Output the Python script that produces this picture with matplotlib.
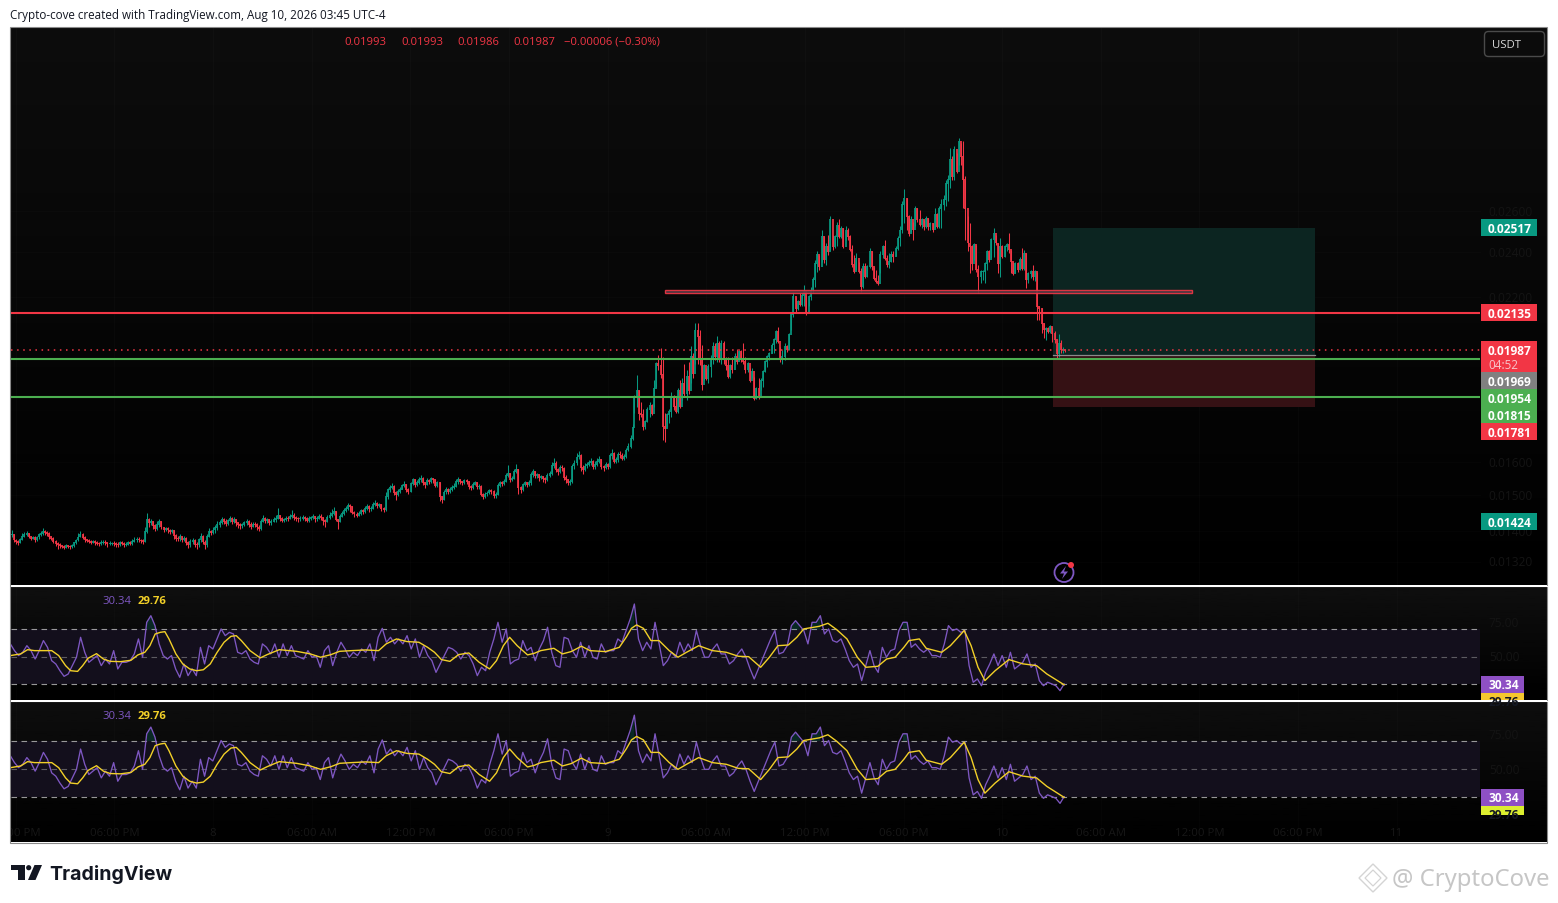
import numpy as np
import matplotlib
matplotlib.use("Agg")
import matplotlib.pyplot as plt
from matplotlib.patches import Rectangle, Polygon, Circle, FancyBboxPatch

W, H = 1558, 904
GREEN = "#089981"
RED = "#f23645"
LINE_GREEN = "#4caf50"
PURPLE = "#7e57c2"
YELLOW = "#f2d028"
FONT = "Open Sans"
FAINT = "#141414"

# --- prices, in 1e-5 USDT ---
left_close = [
    1390,1376,1372,1369,1378,1385,1391,1394,1386,1381,
    1383,1376,1384,1390,1393,1399,1396,1394,1385,1381,
    1373,1367,1365,1361,1360,1357,1361,1359,1358,1361,
    1369,1376,1384,1390,1383,1378,1375,1372,1370,1372,
    1369,1367,1366,1369,1371,1369,1366,1367,1368,1367,
    1364,1363,1369,1367,1363,1365,1369,1367,1373,1376,
    1379,1376,1375,1372,1398,1431,1422,1426,1416,1408,
    1419,1426,1411,1403,1407,1403,1398,1401,1388,1381,
    1379,1385,1378,1381,1370,1363,1372,1376,1365,1363,
    1377,1385,1371,1363,1386,1399,1397,1403,1410,1417,
    1424,1431,1426,1421,1428,1435,1427,1431,1423,1417,
    1414,1417,1423,1426,1419,1412,1419,1417,1411,1408,
    1426,1435,1428,1431,1424,1426,1431,1435,1442,1435,
    1429,1431,1436,1435,1440,1444,1438,1435,1433,1435,
    1438,1435,1430,1435,1437,1440,1433,1435,1441,1438,
    1429,1426,1438,1444,1448,1454,1432,1426,1440,1449,
    1458,1463,1471,1468,1452,1447,1444,1449,1456,1454,
    1463,1468,1461,1463,1475,1478,1470,1473,1463,1459,
    1498,1517,1524,1527,1508,1502,1511,1517,1528,1532,
    1518,1512,1534,1546,1533,1537,1548,1551,1539,1532,
    1544,1541,1549,1546,1530,1537,1496,1488,1510,1517,
    1512,1517,1524,1527,1540,1546,1541,1537,1544,1541,
    1526,1522,1533,1537,1525,1527,1503,1497,1504,1507,
    1515,1512,1499,1502,1530,1537,1535,1541,1559,1566,
    1547,1551,1571,1577,1524,1517,1531,1537,1532,1537,
    1562,1571,1558,1561,1552,1556,1550,1546,1560,1566,
    1590,1597,1577,1571,1585,1582,1553,1546,1537,1541,
    1588,1597,1616,1622,1584,1577,1588,1592,1599,1602,
    1587,1592,1603,1607,1586,1582,1592,1587,1620,1628,
    1603,1607,1625,1622,1612,1617,1638,1650,1675,1710,
]
left_high = [
    1402,1392,1380,1376,1382,1395,1398,1399,1396,1388,
    1388,1386,1388,1396,1399,1408,1404,1400,1397,1388,
    1384,1376,1370,1368,1364,1363,1365,1364,1362,1365,
    1372,1380,1394,1400,1394,1386,1380,1378,1376,1377,
    1376,1373,1370,1375,1376,1375,1372,1373,1372,1373,
    1372,1370,1374,1373,1370,1372,1373,1374,1380,1384,
    1385,1383,1379,1378,1410,1449,1436,1432,1428,1419,
    1428,1432,1428,1412,1412,1410,1407,1406,1404,1392,
    1386,1392,1388,1386,1384,1374,1378,1382,1380,1370,
    1382,1394,1390,1376,1392,1408,1404,1410,1418,1428,
    1430,1440,1436,1432,1434,1442,1438,1438,1434,1426,
    1422,1423,1428,1434,1430,1424,1424,1426,1422,1416,
    1432,1445,1440,1436,1434,1434,1438,1444,1463,1445,
    1438,1437,1442,1442,1448,1458,1449,1442,1440,1442,
    1444,1442,1438,1441,1442,1448,1442,1442,1448,1446,
    1438,1432,1444,1452,1462,1466,1456,1434,1446,1456,
    1464,1470,1478,1476,1470,1456,1452,1456,1462,1462,
    1470,1476,1472,1470,1482,1486,1480,1478,1476,1468,
    1510,1522,1532,1536,1530,1514,1518,1524,1534,1542,
    1534,1522,1540,1552,1550,1545,1556,1562,1555,1540,
    1552,1550,1556,1552,1548,1543,1540,1498,1516,1524,
    1522,1524,1532,1536,1548,1556,1550,1544,1550,1548,
    1544,1530,1540,1544,1540,1534,1530,1506,1510,1514,
    1520,1520,1515,1510,1536,1544,1544,1548,1568,1590,
    1568,1558,1578,1595,1580,1528,1538,1544,1540,1545,
    1570,1580,1574,1568,1564,1562,1558,1554,1566,1574,
    1600,1612,1602,1582,1592,1590,1585,1560,1549,1548,
    1595,1606,1628,1636,1626,1590,1596,1600,1606,1612,
    1606,1602,1612,1618,1610,1590,1600,1596,1628,1640,
    1630,1616,1632,1634,1628,1626,1645,1660,1685,1722,
]
left_low = [
    1384,1372,1366,1364,1367,1376,1383,1388,1382,1376,
    1378,1372,1374,1380,1387,1390,1390,1388,1380,1376,
    1368,1360,1352,1354,1354,1352,1354,1354,1352,1356,
    1358,1366,1374,1384,1378,1372,1370,1368,1366,1367,
    1364,1362,1361,1364,1366,1362,1358,1362,1362,1361,
    1358,1358,1360,1362,1358,1360,1362,1362,1364,1370,
    1372,1370,1369,1366,1370,1395,1412,1416,1405,1400,
    1404,1410,1405,1397,1399,1396,1392,1394,1380,1374,
    1374,1374,1372,1373,1362,1355,1358,1366,1358,1352,
    1358,1372,1366,1352,1358,1384,1390,1391,1396,1404,
    1412,1419,1420,1414,1418,1424,1420,1421,1414,1408,
    1406,1408,1414,1416,1412,1406,1410,1410,1402,1400,
    1404,1425,1422,1422,1418,1418,1424,1426,1432,1428,
    1424,1424,1428,1428,1432,1436,1430,1428,1426,1428,
    1430,1428,1424,1425,1430,1432,1426,1428,1432,1430,
    1418,1410,1424,1434,1440,1444,1428,1405,1424,1440,
    1444,1452,1458,1452,1446,1440,1438,1442,1444,1446,
    1450,1458,1454,1455,1460,1470,1464,1466,1455,1452,
    1456,1490,1510,1518,1500,1486,1498,1506,1518,1524,
    1510,1505,1510,1530,1526,1528,1535,1540,1530,1522,
    1530,1534,1538,1538,1524,1526,1485,1478,1486,1505,
    1505,1506,1514,1520,1526,1535,1534,1530,1534,1534,
    1520,1515,1520,1530,1520,1520,1497,1490,1494,1498,
    1504,1505,1492,1492,1500,1526,1528,1532,1540,1555,
    1540,1544,1548,1568,1505,1508,1512,1528,1524,1528,
    1532,1556,1552,1552,1544,1548,1540,1538,1542,1556,
    1560,1582,1570,1562,1568,1574,1545,1538,1530,1530,
    1538,1580,1590,1610,1572,1565,1572,1582,1588,1590,
    1580,1580,1588,1598,1578,1572,1578,1580,1582,1610,
    1596,1598,1600,1612,1605,1608,1612,1635,1645,1670,
]

right_close = [
    1815,1839,1758,1753,1713,1730,1770,1787,1758,1845,
    1936,1930,1894,1713,1707,1753,1764,1815,1781,1764,
    1839,1781,1863,1827,1887,1839,1962,1900,2066,2040,
    1949,1857,1930,1881,1924,1949,2000,1962,2014,1956,
    2014,1949,1930,1887,1930,1912,1962,1943,1981,1949,
    1943,1912,1936,1875,1906,1809,1845,1815,1875,1906,
    1943,1962,1975,2007,2027,2060,2020,1949,1962,2000,
    1988,2047,2127,2203,2155,2182,2169,2210,2224,2134,
    2203,2232,2276,2350,2389,2335,2476,2366,2428,2405,
    2557,2428,2476,2531,2476,2515,2428,2507,2476,2413,
    2343,2313,2374,2313,2247,2335,2291,2335,2405,2335,
    2284,2269,2262,2389,2428,2374,2343,2358,2389,2381,
    2420,2468,2507,2632,2666,2573,2491,2557,2507,2615,
    2557,2532,2557,2524,2565,2524,2540,2507,2582,2524,
    2615,2632,2657,2744,2762,2871,2781,2928,2807,2975,
    2890,2762,2615,2444,2428,2350,2436,2321,2291,2313,
    2313,2350,2405,2366,2460,2491,2444,2350,2428,2381,
    2428,2436,2413,2358,2306,2350,2321,2366,2328,2397,
    2276,2306,2313,2291,2313,2162,2155,2093,2066,2073,
    2060,2079,2053,2027,1975,2014,1988,1988,1985,
]
right_high = [
    1821,1894,1839,1798,1772,1735,1781,1798,1790,1875,
    1943,1970,1996,1962,1758,1758,1772,1833,1821,1815,
    1845,1875,1881,1936,1912,1943,2003,1975,2093,2093,
    2066,2007,1936,1918,1936,1969,2020,2014,2043,2024,
    2027,2024,1962,1962,1936,1962,1975,1990,1988,1988,
    2014,1962,1943,1918,1918,1887,1851,1881,1881,1912,
    1949,1969,1981,2014,2033,2066,2079,2000,1988,2014,
    2007,2053,2134,2225,2203,2189,2217,2217,2254,2210,
    2210,2247,2291,2366,2405,2389,2507,2476,2444,2483,
    2577,2483,2483,2548,2562,2524,2515,2524,2515,2483,
    2436,2389,2397,2358,2328,2350,2350,2343,2420,2405,
    2335,2321,2298,2405,2436,2460,2389,2397,2405,2405,
    2428,2476,2524,2649,2711,2666,2582,2573,2548,2627,
    2615,2607,2565,2557,2573,2565,2548,2540,2615,2590,
    2624,2660,2683,2762,2789,2937,2890,2947,2909,2994,
    2966,2975,2781,2573,2541,2436,2444,2436,2343,2321,
    2321,2358,2413,2413,2468,2518,2483,2444,2468,2436,
    2436,2444,2491,2413,2358,2358,2358,2381,2420,2413,
    2397,2313,2321,2343,2321,2313,2164,2155,2093,2079,
    2079,2086,2079,2060,2027,2050,2027,2000,1988,
]
right_low = [
    1758,1781,1735,1747,1702,1707,1730,1747,1753,1781,
    1851,1912,1881,1670,1665,1713,1725,1747,1770,1758,
    1758,1775,1804,1815,1804,1827,1863,1881,1936,1936,
    1930,1839,1875,1875,1863,1887,1936,1949,1943,1943,
    1936,1936,1912,1881,1881,1900,1936,1936,1949,1943,
    1936,1900,1906,1869,1881,1804,1806,1809,1839,1851,
    1906,1924,1949,1975,1975,2014,2014,1943,1936,1949,
    1981,1988,2066,2120,2141,2148,2162,2162,2162,2127,
    2162,2189,2217,2247,2313,2321,2358,2350,2343,2389,
    2413,2413,2420,2428,2468,2468,2420,2460,2460,2405,
    2335,2306,2321,2306,2225,2239,2284,2291,2328,2321,
    2276,2262,2254,2306,2374,2366,2335,2328,2358,2358,
    2385,2413,2428,2491,2541,2507,2476,2499,2460,2524,
    2548,2524,2515,2507,2515,2507,2507,2499,2515,2515,
    2515,2515,2607,2624,2649,2719,2762,2762,2798,2843,
    2843,2615,2460,2405,2306,2321,2366,2313,2217,2262,
    2276,2262,2321,2358,2374,2381,2436,2306,2291,2374,
    2381,2405,2397,2306,2299,2306,2313,2321,2321,2321,
    2239,2262,2284,2276,2269,2107,2107,2053,2033,2027,
    2053,2053,2020,2014,1956,1962,1975,1975,1981,
]

# --- RSI, sampled roughly every 15 min across the chart ---
rsi_values = [
    59.5,54.6,51,53.4,58.2,54.6,48.5,54.6,61.9,57,
    47.3,44.9,40,35.9,37.6,43.7,49.8,64.3,53.4,46.1,
    48.5,51,43.7,48.5,44.9,54.6,41.3,46.1,46.1,47.3,
    52.2,63.1,49.8,75.2,80,72.8,59.5,51,48.5,51,
    41.3,35.2,44.9,36.4,41.3,36.4,57,44.9,58.2,55.8,
    63.1,70.4,65.5,67.9,66.7,53.4,52.2,54.6,48.5,46.1,
    44.9,59.5,57,52.2,59.5,49.8,59.5,51,58.2,51,
    49.8,48.5,54.6,49.8,51,42.5,54.6,58.2,43.7,53.4,
    60.7,55.8,49.8,53.4,51,55.8,53.4,59.5,47.3,64.3,
    70.8,60.7,64.3,59.5,63.1,59.5,65.5,55.8,63.1,49.8,
    58.2,51,47.3,38.8,44.9,51,57,55.8,53.4,48.5,
    53.4,51,44.9,36.4,42.5,40,53.4,63.1,75.2,60.7,
    70.4,44.9,47.3,48.5,61.9,54.6,57,47.3,55.8,
    61.9,71.6,53.4,43.7,42.5,64.3,63.1,54.6,49.8,60.7,
    49.8,58.2,49.8,48.5,59.5,53.4,54.6,54.6,63.1,60.7,
    69.2,77.6,88.5,63.1,54.6,60.7,55.8,75.2,59.5,43.7,
    47.3,53.4,49.8,60.7,53.4,59.5,54.6,69.2,58.2,49.8,
    49.8,55.8,59.5,52.2,52.2,44.9,47.3,52.2,55.8,49.8,
    41.3,34,41.3,48.5,55.8,63.1,69.2,52.2,53.4,58.2,
    72.8,76.4,72.8,69.2,59.5,75.2,75.2,80,66.7,70.4,
    61.9,60.7,63.1,55.8,47.3,42.5,44.9,32.8,43.7,54.6,
    43.7,38.8,57,49.8,54.6,55.8,69.2,75.2,75.2,57,
    59.5,55.8,53.4,55.8,51,51,49.8,59.5,72.8,69.2,
    70.4,67.9,69.2,43.7,31.6,34,29.1,38.8,44.9,52.2,
    43.7,51,42.5,53.4,41.3,43.7,46.1,52.2,42.5,44.9,
    32.8,29.1,31.6,30.4,29.1,25.5,30.34,
]
ma_hours = [
    -12.33,-11.70,-11.28,-10.86,-10.23,-9.81,-9.39,-8.97,-8.66,-8.24,
    -7.93,-7.61,-7.09,-6.67,-6.25,-5.62,-4.99,-4.57,-4.15,-3.84,
    -3.52,-3.21,-2.93,-2.68,-2.26,-1.84,-1.42,-1.0,-0.59,-0.17,
    0.25,0.67,1.09,1.41,1.72,2.25,2.87,3.29,4.03,5.08,
    5.92,6.54,7.17,7.70,8.43,9.27,10.07,10.53,11.16,11.79,
    12.52,13.05,13.47,13.89,14.41,14.93,15.56,16.19,16.82,17.24,
    17.66,18.04,18.5,19.13,19.55,19.93,
    20.73,21.25,21.78,22.41,22.93,23.87,24.71,25.13,25.45,25.76,
    26.18,26.64,27.13,27.75,28.28,28.80,29.54,30.38,31.22,31.95,
    32.58,33.31,33.84,34.36,34.99,35.51,35.93,36.88,37.40,37.93,
    38.56,39.19,39.71,40.44,40.97,41.49,42.02,42.33,42.96,43.38,
    44.32,44.85,45.69,46.11,46.53,46.95,47.57,48.41,49.25,50.09,
    50.72,51.77,
]
ma_values = [
    51,52.2,55.3,54.6,54.6,54.6,51,43.7,40,39.5,
    43.7,49,52.4,48.5,46.8,46.6,47.6,51.5,53.4,58.2,
    66.7,67.9,68.4,63.1,52.2,44.9,41.3,40,40.7,44.9,
    53.4,60.7,65,65.5,61.9,54.6,49.3,51.7,55.3,54.1,
    52.2,49.8,51.7,54.1,54.6,55.1,54.6,59.5,63.1,61.2,
    60.7,57,53.4,48.1,46.8,51.7,52.9,46.1,41.3,47.3,
    58.2,64.3,58.2,51.5,52.7,54.6,
    56.3,52.2,53.9,57.8,54.6,53.9,57,64.3,70.8,73.3,
    70.8,61.9,61.9,54.6,49.8,53.4,58.2,54.6,53.4,50.5,
    50.2,42.5,49.8,58.2,58.7,64.3,70.4,72.3,74.5,69.9,
    63.1,49.8,42.5,43.2,48.5,49.8,57,61.9,63.1,56.3,
    53.4,58.2,69.2,58.2,42.5,32.8,40,48.1,45,43.7,
    37.6,29.76,
]

# --- tick labels and levels ---
time_hours = [-12, -6, 0, 6, 12, 18, 24, 30, 36, 42, 48, 54, 60, 66, 72]
time_labels = ["12:00 PM", "06:00 PM", "8", "06:00 AM", "12:00 PM", "06:00 PM", "9",
               "06:00 AM", "12:00 PM", "06:00 PM", "10", "06:00 AM", "12:00 PM",
               "06:00 PM", "11"]
price_ticks = [0.01320, 0.01400, 0.01500, 0.01600, 0.02200, 0.02400, 0.02600]
resistance = 0.02135
supports = [0.01954, 0.01815]
last_price = 0.01987
target, entry, stop = 0.02517, 0.01969, 0.01781
zone_top, zone_bottom = 0.02232, 0.02221

# x axis: hours from the start of Aug 8
hour_min, hour_max = -12.29, 81.14
scale_edge = 77.07
label_hour = 77.6

close = np.array(left_close + right_close) / 1e5
high = np.array(left_high + right_high) / 1e5
low = np.array(left_low + right_low) / 1e5
open_ = np.concatenate(([close[0]], close[:-1]))
bar_hours = np.concatenate((
    np.linspace(-12.23, 25.52, len(left_close)),
    np.linspace(25.63, 51.85, len(right_close)),
))
rsi_hours = np.linspace(-12.33, 51.77, len(rsi_values))
rsi_arr = np.array(rsi_values)


def panel(x0, y0, x1, y1):
    a = fig.add_axes([x0 / W, 1 - y1 / H, (x1 - x0) / W, (y1 - y0) / H])
    a.patch.set_visible(False)
    a.set_axis_off()
    a.set_xlim(hour_min, hour_max)
    return a


fig = plt.figure(figsize=(W / 100, H / 100), dpi=100, facecolor="white")

# backgrounds and frame, in pixel coordinates
bg = fig.add_axes([0, 0, 1, 1], zorder=0)
for (y0, y1, top_level) in [(28, 586, 0.05), (587, 701, 0.06), (702, 843, 0.055)]:
    grad = np.linspace(top_level, 0, 64).reshape(-1, 1)
    bg.imshow(grad, extent=(11, 1547, y1, y0), cmap="gray", vmin=0, vmax=1, aspect="auto")
bg.set_xlim(0, W)
bg.set_ylim(H, 0)
bg.set_axis_off()
bg.add_patch(Rectangle((10.5, 27.5), 1537, 816, fill=False, ec="#8a8a8a", lw=0.8))
bg.plot([11, 1547], [586.5, 586.5], color="white", lw=0.8)
bg.plot([11, 1547], [701.5, 701.5], color="white", lw=0.8)

# --- main price pane ---
ax = panel(11, 29, 1547, 587)
ax.set_zorder(1)
ax.set_yscale("log")
ax.set_ylim(0.01259, 0.03705)
ax.set_axis_off()
for t in time_hours:
    ax.plot([t, t], [0.01259, 0.03705], color="white", alpha=0.018, lw=0.7, zorder=1)
for p in price_ticks:
    ax.plot([hour_min, scale_edge], [p, p], color="white", alpha=0.015, lw=0.7, zorder=1)
    ax.text(label_hour, p, f"{p:.5f}", color=FAINT, fontsize=8.6, fontfamily=FONT,
            va="center", ha="left", zorder=1)

# long position box
ax.add_patch(Rectangle((51.1, entry), 15.93, target - entry, fc="#0c2521", ec="none", zorder=2))
ax.add_patch(Rectangle((51.1, stop), 15.93, entry - stop, fc="#351114", ec="none", zorder=2))

# candles
up = close >= open_
body_hi = np.maximum(open_, close) * 1.0008
body_lo = np.minimum(open_, close) * 0.9992
for mask, col in [(up, GREEN), (~up, RED)]:
    ax.vlines(bar_hours[mask], low[mask], high[mask], color=col, lw=0.75, zorder=3, capstyle="butt")
    ax.vlines(bar_hours[mask], body_lo[mask], body_hi[mask], color=col, lw=1.25, zorder=3, capstyle="butt")

# levels
ax.plot([hour_min, scale_edge], [resistance] * 2, color=RED, lw=1.5, zorder=4, solid_capstyle="butt")
for lvl in supports:
    ax.plot([hour_min, scale_edge], [lvl] * 2, color=LINE_GREEN, lw=1.5, zorder=4, solid_capstyle="butt")
ax.plot([hour_min, scale_edge], [last_price] * 2, color=RED, lw=1.1, ls=(0, (1, 3)), zorder=4)
ax.plot([51.1, 67.03], [entry, entry], color="#8a8a8a", lw=0.9, zorder=4)
ax.add_patch(Rectangle((27.5, zone_bottom), 32.05, zone_top - zone_bottom, fc="#4a3a44",
                       ec=RED, lw=1.0, alpha=0.9, zorder=5))

# --- RSI panes ---
rsi_a = panel(11, 587, 1547, 701)
rsi_a.set_ylim(18.7, 101.6)
rsi_b = panel(11, 703, 1547, 843)
rsi_b.set_ylim(-2.1, 97.9)
for a in (rsi_a, rsi_b):
    a.set_zorder(1)
    for t in time_hours:
        a.plot([t, t], [a.get_ylim()[0], a.get_ylim()[1]], color="white", alpha=0.015, lw=0.7, zorder=1)
    a.add_patch(Rectangle((hour_min, 30), scale_edge - hour_min, 40, fc="#130f1c", ec="none", zorder=1))
    for lvl in (70, 50, 30):
        alpha = 0.5 if lvl == 50 else 0.9
        a.plot([hour_min, scale_edge], [lvl, lvl], color="#a8a8a8", lw=0.8, alpha=alpha,
               ls=(0, (5, 4)), zorder=2)
    a.fill_between(rsi_hours, 70, rsi_arr, where=rsi_arr > 70, color=GREEN, alpha=0.22, lw=0, zorder=2)
    a.plot(rsi_hours, rsi_arr, color=PURPLE, lw=0.95, zorder=3)
    a.plot(ma_hours, ma_values, color=YELLOW, lw=1.0, zorder=4)
    for v in (75, 50):
        a.text(label_hour, v, f"{v:.2f}", color=FAINT, fontsize=8.6, fontfamily=FONT,
               va="center", ha="left", zorder=1)

for t, lab in zip(time_hours, time_labels):
    rsi_b.text(t, 4.6, lab, color="#171717", fontsize=8.2, fontfamily=FONT, ha="center",
               va="center", clip_on=True, zorder=1)

# --- page text, labels, icons (pixel coordinates) ---
top = fig.add_axes([0, 0, 1, 1], zorder=3)
top.set_xlim(0, W)
top.set_ylim(H, 0)
top.set_axis_off()
top.patch.set_visible(False)

top.text(10, 15.5, "Crypto-cove created with TradingView.com, Aug 10, 2026 03:45 UTC-4",
         color="#131722", fontsize=8.4, fontfamily=FONT, va="center")

for x, s in [(344, "0.01993"), (401, "0.01993"), (457, "0.01986"), (513, "0.01987"),
             (564, "−0.00006 (−0.30%)")]:
    top.text(x, 42.5, s, color=RED, fontsize=8.1, fontfamily=FONT, va="center")


def price_label(y0, y1, text, col, ty=None, fg="white"):
    top.add_patch(Rectangle((1481, y0), 56, y1 - y0, fc=col, ec="none"))
    top.text(1509.5, (y0 + y1) / 2 + 0.7 if ty is None else ty, text, color=fg, fontsize=8.6,
             fontweight="bold", fontfamily=FONT, ha="center", va="center")


price_label(220, 237, "0.02517", GREEN)
price_label(305, 322, "0.02135", RED)
price_label(342, 373, "0.01987", RED, ty=351.5)
top.text(1503.5, 365.5, "04:52", color="#f7c5ca", fontsize=8.4, fontfamily=FONT, ha="center", va="center")
price_label(373, 390, "0.01969", "#808080")
price_label(390, 407, "0.01954", LINE_GREEN)
price_label(407, 424, "0.01815", LINE_GREEN)
price_label(424, 441, "0.01781", RED)
price_label(514, 531, "0.01424", GREEN)

# RSI labels, the lower ones cut by the pane edge
for y, ma_col, pane_end, ylab in [(677, "#f5c82e", 701, 602), (790, "#dcee2f", 816, 717)]:
    top.add_patch(Rectangle((1481, y), 43, 17, fc="#8e50c4", ec="none"))
    top.text(1503.5, y + 9, "30.34", color="white", fontsize=8.6, fontweight="bold",
             fontfamily=FONT, ha="center", va="center")
    box = Rectangle((1481, y + 17), 43, pane_end - y - 17, fc=ma_col, ec="none")
    top.add_patch(box)
    txt = top.text(1503.5, y + 26, "29.76", color="#131722", fontsize=8.6, fontweight="bold",
                   fontfamily=FONT, ha="center", va="center")
    txt.set_clip_path(box)
    top.text(102, ylab, "30.34", color=PURPLE, fontsize=8.1, fontfamily=FONT, va="center")
    top.text(138, ylab, "29.76", color=YELLOW, fontsize=8.1, fontweight="bold", fontfamily=FONT, va="center")

# currency button
top.add_patch(FancyBboxPatch((1486, 34), 57, 22, boxstyle="round,pad=1.5,rounding_size=4",
                             fc="#0b0b0b", ec="#4a4a4a", lw=1))
top.text(1507, 45, "USDT", color="#d8d8d8", fontsize=8.2, fontfamily=FONT, ha="center", va="center")

# lightning icon
top.add_patch(Circle((1064, 573.5), 9.5, fc="none", ec=PURPLE, lw=1.3))
top.add_patch(Polygon([(1066, 567), (1060, 574.5), (1064, 574.5), (1062, 580), (1068, 572.5), (1064, 572.5)],
                      closed=True, fc=PURPLE, ec="none"))
top.add_patch(Circle((1071, 566), 3, fc=RED, ec="none"))

# TradingView logo
LOGO = "#131722"
top.add_patch(Polygon([(11.5, 866), (25, 866), (25, 881), (18, 881), (18, 871), (11.5, 871)], closed=True, fc=LOGO, ec="none"))
top.add_patch(Circle((28.7, 868.7), 2.6, fc=LOGO, ec="none"))
top.add_patch(Polygon([(34.5, 866), (42, 866), (35.5, 881), (28, 881)], closed=True, fc=LOGO, ec="none"))
top.text(49, 874.5, "TradingView", color=LOGO, fontsize=14.1, fontweight="bold", fontfamily="Inter", va="center")

# watermark
for r, lw in [(14, 1.0), (8, 0.9)]:
    top.add_patch(Polygon([(1373, 879 - r), (1373 + r, 879), (1373, 879 + r), (1373 - r, 879)],
                          closed=True, fc="none", ec="#d4d4d4", lw=lw))
top.text(1392, 880, "@ CryptoCove", color="#c6c6c6", fontsize=17.2, fontfamily="Noto Sans", va="center")

fig.savefig("out.png", dpi=100)
